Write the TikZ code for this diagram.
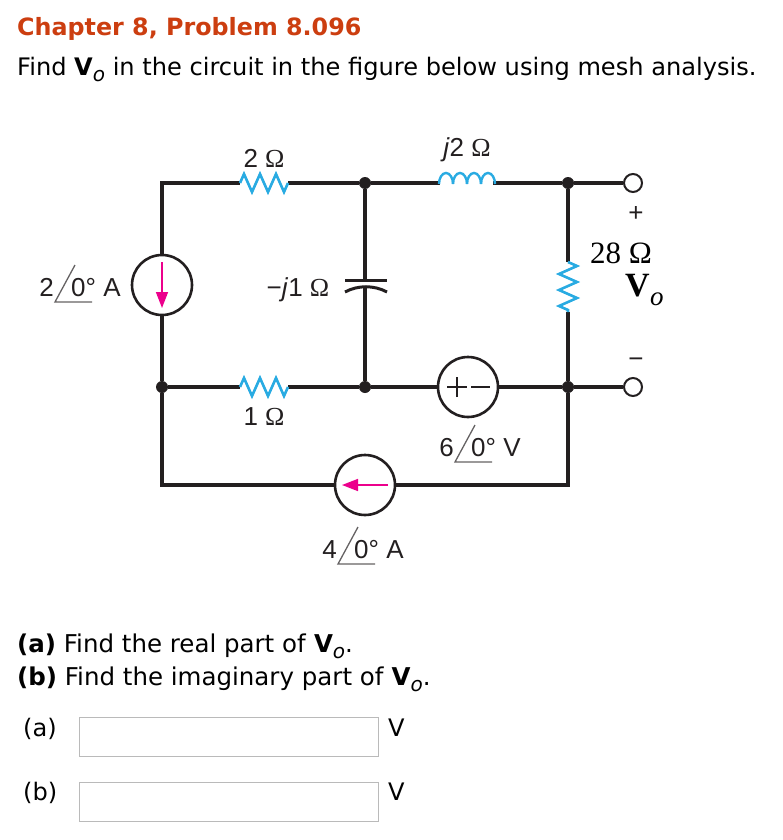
\documentclass[tikz,border=0pt]{standalone}
\usepackage{fontspec}
\setmainfont{DejaVu Sans}
\newfontfamily\figfont{Liberation Sans}
\newfontfamily\serfont{Liberation Serif}
\usetikzlibrary{arrows.meta,decorations.pathmorphing}
\definecolor{titlecol}{RGB}{204,62,16}
\definecolor{partcol}{RGB}{41,171,226}
\definecolor{arrowcol}{RGB}{236,0,140}
\definecolor{wirecol}{RGB}{35,31,32}
\tikzset{
  wire/.style={line width=4pt,color=wirecol},
  res/.style={line width=2.6pt,color=partcol,decorate,decoration={zigzag,segment length=16pt,amplitude=9pt}},
  dot/.style={circle,fill=wirecol,inner sep=0pt,minimum size=12pt},
  term/.style={circle,draw=wirecol,fill=white,line width=2pt,inner sep=0pt,minimum size=18pt},
  src/.style={circle,draw=wirecol,fill=white,line width=2.6pt,inner sep=0pt,minimum size=60pt},
  pinkarr/.style={line width=1.6pt,color=arrowcol,-{Triangle[length=16pt,width=12pt]}},
  txt/.style={anchor=base west,inner sep=0pt,font=\fontsize{24.1}{28}\selectfont},
  qtxt/.style={txt,font=\fontsize{24.5}{28}\selectfont},
  lbl/.style={inner sep=0pt,text=wirecol,font=\figfont\fontsize{26}{30}\selectfont},
  ansbox/.style={draw=black!27,line width=1pt,inner sep=0pt,minimum width=299pt,minimum height=39pt},
}
\newcommand{\ohm}{{\serfont\fontsize{26}{30}\selectfont Ω}}
\newcommand{\vosub}{\textbf{V}\raisebox{-6pt}{\fontsize{20}{24}\selectfont\textit{o}}}
% corner of the angle sign, number, rest of the label
\newcommand{\phasorlbl}[3]{
  \node[lbl,anchor=base east] at ([shift={(-1pt,6pt)}]#1) {#2};
  \node[lbl,anchor=base west] at ([shift={(16pt,6pt)}]#1) {#3};
  \draw[line width=1.3pt,color=wirecol!70] ([shift={(20pt,37pt)}]#1) -- (#1) -- ++(37pt,0);
}
\begin{document}
\begin{tikzpicture}[x=1pt,y=-1pt]
  \useasboundingbox (0,0) rectangle (782,840);
  % text above
  \node[txt,text=titlecol,font=\fontsize{23.8}{28}\selectfont\bfseries] (title) at (17,36) {Chapter 8, Problem 8.096};
  \node[txt] (task) at (17,76) {Find \vosub{} in the circuit in the figure below using mesh analysis.};
  % corners and junctions
  \coordinate (tl) at (162,183);
  \coordinate (ll) at (162,485);
  \coordinate (lr) at (568,485);
  \node[dot] (tm) at (365,183) {};
  \node[dot] (tr) at (568,183) {};
  \node[dot] (ml) at (162,387) {};
  \node[dot] (mm) at (365,387) {};
  \node[dot] (br) at (568,387) {};
  \node[term] (to) at (633,183) {};
  \node[term] (bo) at (633,387) {};
  \node[src] (is1) at (162,285) {};
  \node[src] (is2) at (365,485) {};
  \node[src] (vs) at (468,387) {};
  % ends of the parts
  \coordinate (r1a) at (240,183);
  \coordinate (r1b) at (288,183);
  \coordinate (r2a) at (240,387);
  \coordinate (r2b) at (288,387);
  \coordinate (r3a) at (568,262);
  \coordinate (r3b) at (568,312);
  \coordinate (l1a) at (440,183);
  \coordinate (l1b) at (493,183);
  \coordinate (c1a) at (365,280);
  \coordinate (c1b) at (365,287);
  % wires
  \draw[wire] (is1) -- (tl) -- (r1a);
  \draw[wire] (r1b) -- (tm) -- (l1a);
  \draw[wire] (l1b) -- (tr) -- (to);
  \draw[wire] (tr) -- (r3a);
  \draw[wire] (r3b) -- (br);
  \draw[wire] (is1) -- (ml) -- (r2a);
  \draw[wire] (r2b) -- (mm) -- (vs);
  \draw[wire] (vs) -- (br) -- (bo);
  \draw[wire] (tm) -- (c1a);
  \draw[wire] (c1b) -- (mm);
  \draw[wire] (ml) -- (ll) -- (is2);
  \draw[wire] (is2) -- (lr) -- (br);
  % resistors, inductor, capacitor
  \draw[res] (r1a) -- (r1b);
  \draw[res] (r2a) -- (r2b);
  \draw[res] (r3a) -- (r3b);
  \foreach \i in {0,1,2,3}
    \draw[line width=2.4pt,color=partcol] (439+14*\i,184) arc (-180:0:7 and 11);
  \draw[line width=3pt,color=wirecol] (345,280) -- (387,280);
  \draw[line width=3pt,color=wirecol] (345,292) .. controls (358,285) and (374,285) .. (387,292);
  % arrows and signs of the sources
  \draw[pinkarr] ([yshift=23pt]is1.center) -- ([yshift=-23pt]is1.center);
  \draw[pinkarr] ([xshift=23pt]is2.center) -- ([xshift=-23pt]is2.center);
  \draw[line width=2pt,color=wirecol] ([xshift=-21pt]vs.center) -- ([xshift=-1pt]vs.center);
  \draw[line width=2pt,color=wirecol] ([shift={(-11pt,-10pt)}]vs.center) -- ([shift={(-11pt,10pt)}]vs.center);
  \draw[line width=2pt,color=wirecol] ([xshift=3pt]vs.center) -- ([xshift=22pt]vs.center);
  % labels
  \node[lbl,anchor=base] (r1t) at (264,167) {2 \ohm};
  \node[lbl,anchor=base] (r2t) at (264,425) {1 \ohm};
  \node[lbl,anchor=base] (c1t) at (298,296) {\textminus\textit{j}1 \ohm};
  \node[lbl,anchor=base] (l1t) at (467,157) {\textit{j}2 \ohm};
  \coordinate (p1) at (55,302);
  \coordinate (p2) at (455,462);
  \coordinate (p3) at (338,564);
  \phasorlbl{p1}{2}{0° A}
  \phasorlbl{p2}{6}{0° V}
  \phasorlbl{p3}{4}{0° A}
  \node[lbl,anchor=base] (plus) at (636,221) {+};
  \node[lbl,anchor=base] (minus) at (636,367) {\textminus};
  \node[anchor=base west,inner sep=0pt,font=\serfont\fontsize{31}{36}\selectfont] (r3t) at (590,263) {28 Ω};
  \node[anchor=base west,inner sep=0pt,font=\serfont\fontsize{34}{38}\selectfont\bfseries] (vt) at (625,296) {V};
  \node[anchor=base west,inner sep=0pt,font=\serfont\fontsize{27}{30}\selectfont\itshape] (ot) at (650,305) {o};
  % text below
  \node[qtxt] (qa) at (17,652) {\textbf{(a)} Find the real part of \vosub{}.};
  \node[qtxt] (qb) at (17,685) {\textbf{(b)} Find the imaginary part of \vosub{}.};
  \node[txt] (la) at (23,736) {(a)};
  \node[txt] (lb) at (23,800) {(b)};
  \node[ansbox,anchor=north west] (ba) at (79,717) {};
  \node[ansbox,anchor=north west] (bb) at (79,782) {};
  \node[txt] (va) at (388,736) {V};
  \node[txt] (vb) at (388,800) {V};
\end{tikzpicture}
\end{document}
